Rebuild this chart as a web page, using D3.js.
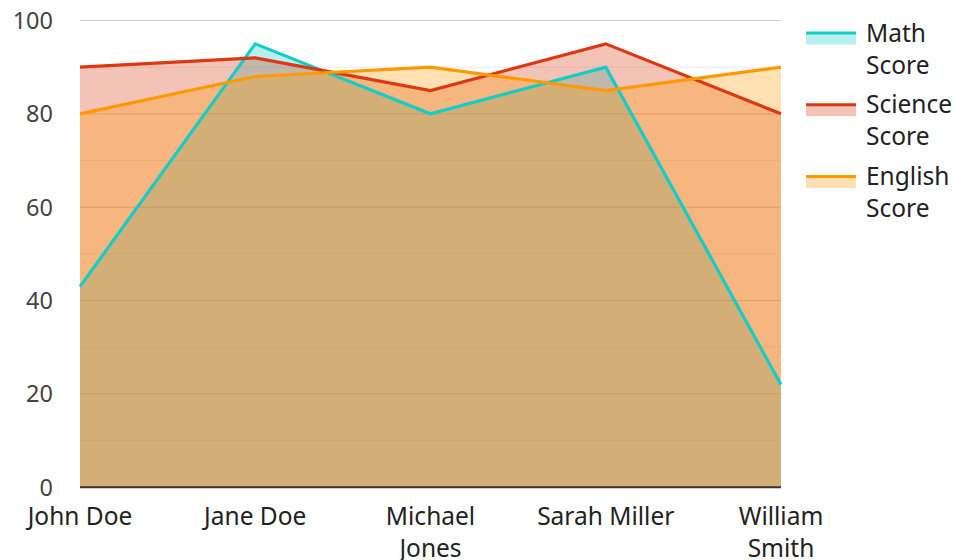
<!DOCTYPE html>
<html>
<head>
<meta charset="utf-8">
<script src="https://cdn.jsdelivr.net/npm/d3@7/dist/d3.min.js"></script>
<style>
  html, body { margin: 0; padding: 0; background: #fff; }
  svg { display: block; font-family: "Noto Sans", "Open Sans", sans-serif; }
</style>
</head>
<body>
<svg id="chart" width="955" height="560"></svg>
<script>
const categories = ["John Doe", "Jane Doe", "Michael Jones", "Sarah Miller", "William Smith"];
const categoryLines = [["John Doe"], ["Jane Doe"], ["Michael", "Jones"], ["Sarah Miller"], ["William", "Smith"]];
const seriesNames = ["Math Score", "Science Score", "English Score"];
const legendLines = [["Math", "Score"], ["Science", "Score"], ["English", "Score"]];
const mathScores = [43, 95, 80, 90, 22];
const scienceScores = [90, 92, 85, 95, 80];
const englishScores = [80, 88, 90, 85, 90];
const yTicks = [0, 20, 40, 60, 80, 100];
const yMinorTicks = [10, 30, 50, 70, 90];
const colors = ["#12cdc8", "#dc3912", "#ff9900"];

const series = [mathScores, scienceScores, englishScores];

const svg = d3.select("#chart");
const plotLeft = 80, plotRight = 781, plotTop = 20.5, plotBottom = 487.3;

const x = d3.scalePoint().domain(categories).range([plotLeft, plotRight]);
const y = d3.scaleLinear().domain([0, 100]).range([plotBottom, plotTop]);

// gridlines
svg.append("g").selectAll("line").data(yMinorTicks).join("line")
  .attr("x1", plotLeft).attr("x2", plotRight)
  .attr("y1", d => y(d)).attr("y2", d => y(d))
  .attr("stroke", "#ebebeb").attr("stroke-width", 1);
svg.append("g").selectAll("line").data(yTicks.filter(d => d !== 0)).join("line")
  .attr("x1", plotLeft).attr("x2", plotRight)
  .attr("y1", d => y(d)).attr("y2", d => y(d))
  .attr("stroke", "#cccccc").attr("stroke-width", 1);

const area = d3.area()
  .x((d, i) => x(categories[i]))
  .y0(y(0))
  .y1(d => y(d));
const line = d3.line()
  .x((d, i) => x(categories[i]))
  .y(d => y(d));

series.forEach((s, k) => {
  svg.append("path").attr("d", area(s))
    .attr("fill", colors[k]).attr("fill-opacity", 0.3).attr("stroke", "none");
});

// baseline
svg.append("line")
  .attr("x1", plotLeft).attr("x2", plotRight)
  .attr("y1", y(0)).attr("y2", y(0))
  .attr("stroke", "#333333").attr("stroke-width", 2);

series.forEach((s, k) => {
  svg.append("path").attr("d", line(s))
    .attr("fill", "none").attr("stroke", colors[k]).attr("stroke-width", 3.2)
    .attr("stroke-linejoin", "miter");
});

// y axis labels
svg.append("g").selectAll("text").data(yTicks).join("text")
  .attr("x", 53).attr("y", d => y(d))
  .attr("dy", "0.36em")
  .attr("text-anchor", "end")
  .attr("font-size", 23.5)
  .attr("fill", "#444444")
  .text(d => d);

// x axis labels
const xl = svg.append("g").selectAll("text").data(categories).join("text")
  .attr("text-anchor", "middle")
  .attr("font-size", 24.5)
  .attr("fill", "#222222")
  .attr("y", 525);
xl.each(function(d, i) {
  const t = d3.select(this);
  categoryLines[i].forEach((ln, j) => {
    t.append("tspan").attr("x", x(d)).attr("y", 525 + j * 31.5).text(ln);
  });
});

// legend
const lg = svg.append("g");
seriesNames.forEach((name, k) => {
  const ly = 33 + k * 71.7;
  lg.append("rect").attr("x", 806).attr("y", ly).attr("width", 50).attr("height", 11.5)
    .attr("fill", colors[k]).attr("fill-opacity", 0.3);
  lg.append("line").attr("x1", 806).attr("x2", 856).attr("y1", ly).attr("y2", ly)
    .attr("stroke", colors[k]).attr("stroke-width", 3);
  const t = lg.append("text").attr("font-size", 24.5).attr("fill", "#222222");
  legendLines[k].forEach((ln, j) => {
    t.append("tspan").attr("x", 866).attr("y", ly + 8.7 + j * 31.8).text(ln);
  });
});
</script>
</body>
</html>
